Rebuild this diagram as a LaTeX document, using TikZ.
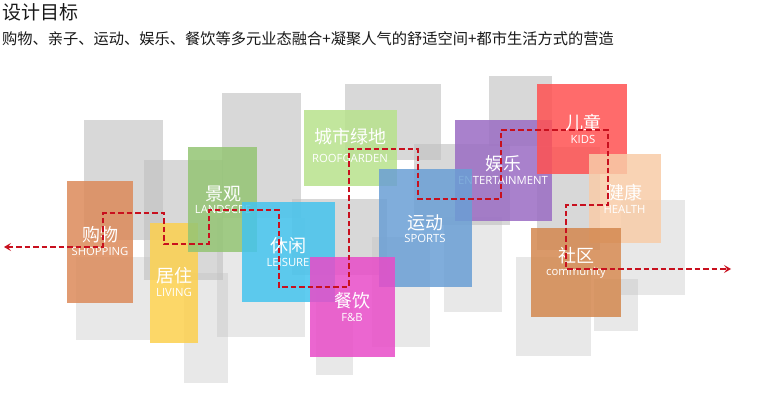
\documentclass[tikz,border=0pt]{standalone}
\usepackage{fontspec}
\setmainfont{Open Sans}
\newfontfamily\cjk{Noto Sans CJK SC}
\usetikzlibrary{arrows.meta}
\definecolor{cshop}{HTML}{DC8A5A}
\definecolor{cliving}{HTML}{FCD04E}
\definecolor{cland}{HTML}{94C574}
\definecolor{cleis}{HTML}{44C4EE}
\definecolor{croof}{HTML}{B8E28C}
\definecolor{csport}{HTML}{6A9FD5}
\definecolor{cfb}{HTML}{E84CC8}
\definecolor{cent}{HTML}{9A6CC4}
\definecolor{ckids}{HTML}{FF5252}
\definecolor{chealth}{HTML}{F8CCA8}
\definecolor{ccomm}{HTML}{D4884F}
\definecolor{routered}{HTML}{C8101E}
\begin{document}
\begin{tikzpicture}[x=1pt,y=-1pt,
  graybox/.style={fill=black!25,fill opacity=0.6,draw=none},
  lightbox/.style={fill=black!25,fill opacity=0.35,draw=none},
  cbox/.style={draw=none,rectangle,inner sep=0pt,outer sep=0pt,fill opacity=0.85},
  cn/.style={text=white,font=\cjk\fontsize{18}{18}\selectfont,inner sep=0pt},
  en/.style={text=white,font=\fontsize{11.3}{11.3}\selectfont,inner sep=0pt,text height=8pt,text depth=0pt},
  route/.style={draw=routered,line width=2pt,dash pattern=on 5.5pt off 3pt,line join=miter}
]
\newcommand\zbox[6]{\node[cbox,fill=#6,minimum width={(#4-#2)*1pt},minimum height={(#5-#3)*1pt}] (#1) at ({(#2+#4)/2},{(#3+#5)/2}) {};}
\fill[white] (0,0) rectangle (760,411);
\useasboundingbox (0,0) rectangle (760,411);

% title
\node[anchor=base west,inner sep=0pt,font=\cjk\fontsize{19}{19}\selectfont,text=black!90] (title) at (2,20) {设计目标};
\node[anchor=base west,inner sep=0pt,font=\cjk\fontsize{15.25}{15.25}\selectfont,text=black!90] (subtitle) at (2,44.8) {购物、亲子、运动、娱乐、餐饮等多元业态融合+凝聚人气的舒适空间+都市生活方式的营造};

% gray background blocks
\path[graybox] (84,120) rectangle (163,240);
\path[graybox] (144,160) rectangle (223,280);
\path[lightbox] (76,257) rectangle (150,340);
\path[lightbox] (184,273) rectangle (228,383);
\path[graybox] (222,93) rectangle (301,218);
\path[lightbox] (217,218) rectangle (305,337);
\path[graybox] (292,199) rectangle (387,275);
\path[graybox] (345,84) rectangle (441,160);
\path[graybox] (414,144) rectangle (510,225);
\path[graybox] (489,76) rectangle (552,146);
\path[lightbox] (372,237) rectangle (430,347);
\path[lightbox] (316,290) rectangle (353,375);
\path[lightbox] (444,217) rectangle (502,312);
\path[lightbox] (516,257) rectangle (591,356);
\path[graybox] (537,147) rectangle (600,250);
\path[lightbox] (621,200) rectangle (685,295);
\path[lightbox] (594,279) rectangle (638,331);

% coloured zones
\zbox{shop}{67}{181}{133}{303}{cshop}
\node[cn] (shopcn) at (100,235) {购物};
\node[en] (shopen) at (100,252) {SHOPPING};

\zbox{living}{150}{223}{198}{343}{cliving}
\node[cn] (livingcn) at (174,276) {居住};
\node[en] (livingen) at (174,293) {LIVING};

\zbox{land}{188}{147}{257}{252}{cland}
\node[cn] (landcn) at (223,193.5) {景观};
\node[en] (landen) at (223,210) {LANDSCPE};

\zbox{leis}{242}{202}{335}{302}{cleis}
\node[cn] (leiscn) at (288,246) {休闲};
\node[en] (leisen) at (288,263) {LEISURE};

\zbox{roof}{304}{110}{397}{186}{croof}
\node[cn] (roofcn) at (350,136.5) {城市绿地};
\node[en] (roofen) at (350,159) {ROOFGARDEN};

\zbox{ent}{455}{120}{552}{221}{cent}
\node[cn] (entcn) at (503,164) {娱乐};
\node[en] (enten) at (503,181) {ENTERTAINMENT};

\zbox{sport}{379}{169}{472}{287}{csport}
\node[cn] (sportcn) at (425,222.5) {运动};
\node[en] (sporten) at (425,239) {SPORTS};

\zbox{fb}{310}{257}{395}{357}{cfb}
\node[cn] (fbcn) at (352,301) {餐饮};
\node[en] (fben) at (352,318) {F\&B};

\zbox{kids}{537}{84}{627}{174}{ckids}
\node[cn] (kidscn) at (583,122.5) {儿童};
\node[en] (kidsen) at (583,140) {KIDS};

\zbox{health}{589}{154}{661}{243}{chealth}
\node[cn] (healthcn) at (624.5,192.5) {健康};
\node[en] (healthen) at (624.5,209.5) {HEALTH};

\zbox{comm}{531}{228}{621}{317}{ccomm}
\node[cn] (commcn) at (576,256) {社区};
\node[en] (commen) at (576,272) {community};

% route
\coordinate (Lend) at (4,247);
\coordinate (Rend) at (731,269);
\draw[route,{Stealth[length=7pt,width=8pt,inset=3pt]}-{Stealth[length=7pt,width=8pt,inset=3pt]}]
  (Lend) -- (103,247) -- (103,213) -- (164,213) -- (164,244) -- (209,244) -- (209,210)
  -- (279,210) -- (279,287) -- (349,287) -- (349,149) -- (418,149) -- (418,199)
  -- (501,199) -- (501,130) -- (608,130) -- (608,205) -- (566,205) -- (566,269) -- (Rend);
\end{tikzpicture}
\end{document}
